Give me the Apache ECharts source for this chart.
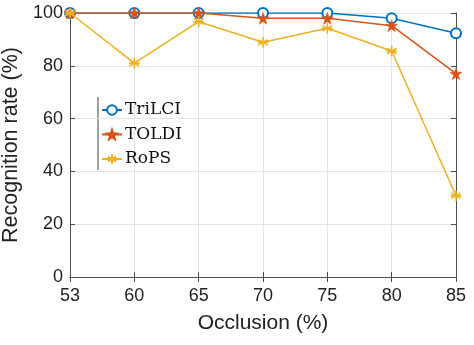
<!DOCTYPE html>
<html><head><meta charset="utf-8">
<script src="https://cdn.jsdelivr.net/npm/echarts@6/dist/echarts.min.js"></script>
<style>html,body{margin:0;padding:0;background:#fff}#c{width:474px;height:345px}</style>
</head><body><div id="c"></div>
<script>
const categories = ['53','60','65','70','75','80','85'];
const triLCI = [100,100,100,100,100,98,92.3];
const toldi  = [100,100,100,98,98,95.2,77];
const rops   = [100,81,96.7,88.9,94.2,85.6,30.8];
const yTicks = {min:0, max:100, interval:20};

const starPath = 'path://M0,-10 L2.35,-3.24 L9.51,-3.09 L3.8,1.24 L5.88,8.09 L0,4 L-5.88,8.09 L-3.8,1.24 L-9.51,-3.09 L-2.35,-3.24 Z';
const asteriskPath = 'path://M0,-10 L0,10 M-8.66,-5 L8.66,5 M-8.66,5 L8.66,-5 M-10,0 L10,0';
const axisCol = '#4d4d4d';
const chart = echarts.init(document.getElementById('c'));
chart.setOption({
  animation:false,
  backgroundColor:'#fff',
  grid:{left:70,right:18,top:13,bottom:68, outerBoundsMode:'none', containLabel:false},
  legend:{
    orient:'vertical', left:101, top:100, padding:0, itemWidth:20, itemHeight:12, itemGap:4.5,
    textStyle:{fontFamily:'DejaVu Serif', fontSize:17, lineHeight:20, color:'#111', padding:[0,0,0,-2]},
    data:['TriLCI','TOLDI','RoPS']
  },
  graphic:[{type:'line', shape:{x1:98,y1:97,x2:98,y2:170}, style:{stroke:'#444',lineWidth:1}}],
  xAxis:[{
    type:'category', data:categories, boundaryGap:false,
    name:'Occlusion (%)', nameLocation:'middle', nameGap:36,
    nameTextStyle:{fontFamily:'Liberation Sans', fontSize:21, color:'#222'},
    axisLine:{lineStyle:{color:axisCol}},
    axisTick:{inside:true, length:5, alignWithLabel:true, lineStyle:{color:axisCol}},
    axisLabel:{fontFamily:'Liberation Sans', fontSize:18, color:'#222', margin:10},
    splitLine:{show:true, lineStyle:{color:'#e3e3e3'}}
  },{
    type:'category', data:categories, boundaryGap:false, position:'top',
    axisLine:{lineStyle:{color:axisCol}},
    axisTick:{inside:true, length:5, lineStyle:{color:axisCol}},
    axisLabel:{show:false}, splitLine:{show:false}
  }],
  yAxis:[{
    type:'value', min:yTicks.min, max:yTicks.max, interval:yTicks.interval,
    name:'Recognition rate (%)', nameLocation:'middle', nameGap:41,
    nameTextStyle:{fontFamily:'Liberation Sans', fontSize:21.5, color:'#222'},
    axisLine:{show:true, lineStyle:{color:axisCol}},
    axisTick:{show:true, inside:true, length:5, lineStyle:{color:axisCol}},
    axisLabel:{fontFamily:'Liberation Sans', fontSize:18, color:'#222', margin:7},
    splitLine:{show:true, lineStyle:{color:'#e3e3e3'}}
  },{
    type:'value', min:yTicks.min, max:yTicks.max, interval:yTicks.interval, position:'right',
    axisLine:{show:true, lineStyle:{color:axisCol}},
    axisTick:{show:true, inside:true, length:5, lineStyle:{color:axisCol}},
    axisLabel:{show:false}, splitLine:{show:false}
  }],
  series:[
    {name:'TriLCI', type:'line', data:triLCI,
     symbol:'emptyCircle', symbolSize:10, showAllSymbol:true,
     lineStyle:{width:1.5, color:'#0072BD'}, itemStyle:{color:'#0072BD', borderColor:'#0072BD', borderWidth:1.5}, z:3},
    {name:'TOLDI', type:'line', data:toldi,
     symbol:starPath, symbolSize:12, showAllSymbol:true,
     lineStyle:{width:1.5, color:'#D95319'}, itemStyle:{color:'#D95319', borderColor:'#D95319', borderWidth:0.5}, z:4},
    {name:'RoPS', type:'line', data:rops,
     symbol:asteriskPath, symbolSize:11, showAllSymbol:true,
     lineStyle:{width:1.5, color:'#EDB120'}, itemStyle:{color:'#EDB120', borderColor:'#EDB120', borderWidth:1.5}, z:5}
  ]
});
</script></body></html>
